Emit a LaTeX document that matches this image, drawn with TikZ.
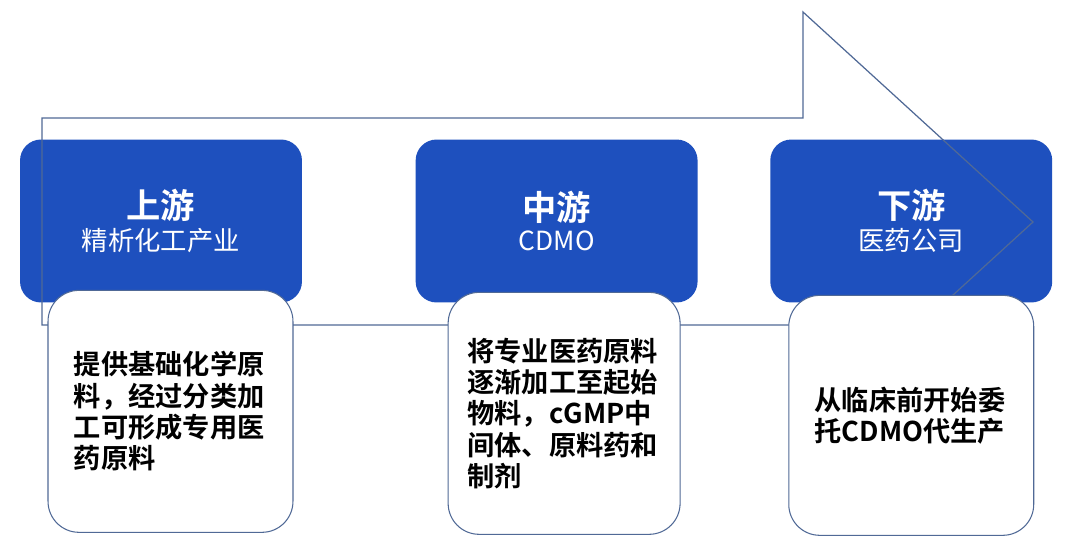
\documentclass[tikz,border=0pt]{standalone}
\usepackage{fontspec}
\newfontfamily\cjk{Noto Sans CJK SC}[BoldFont={Noto Sans CJK SC Bold}]
\usepackage{tikz}
\usetikzlibrary{positioning}
\definecolor{headblue}{RGB}{30,80,190}
\definecolor{edgegray}{RGB}{80,105,150}

\begin{document}
\begin{tikzpicture}[
    x=0.02cm, y=-0.02cm,
    font=\cjk,
    head_box/.style={fill=headblue, draw=none, rounded corners=0.42cm, minimum width=5.64cm, minimum height=3.26cm, text=white, align=center, inner sep=0pt},
    body_box/.style={fill=white, draw=edgegray, line width=0.6pt, rounded corners=0.62cm, minimum height=4.84cm, align=left, text width=110pt, font=\cjk\bfseries\fontsize{15.5}{17.8}\selectfont},
    flow_line/.style={draw=edgegray, line width=0.7pt}
]
\fill[white] (0,0) rectangle (1080,555);
\useasboundingbox (0,0) rectangle (1080,555);

% stage headers
\node (up_head) [head_box] at (161,221)
    {{\bfseries\fontsize{19.5}{22}\selectfont 上游}\\[3pt]{\fontsize{15}{18}\selectfont 精析化工产业}};
\node (mid_head) [head_box, right=2.26cm of up_head]
    {{\bfseries\fontsize{19.5}{22}\selectfont 中游}\\[3pt]{\fontsize{15}{18}\selectfont CDMO}};
\node (dn_head) [head_box, right=1.44cm of mid_head]
    {{\bfseries\fontsize{19.5}{22}\selectfont 下游}\\[3pt]{\fontsize{15}{18}\selectfont 医药公司}};

% big flow arrow
\draw [flow_line] (42,118) -- (803,118) -- (803,12) -- (1033,222) -- (803,432) -- (803,325) -- (42,325) -- cycle;

% stage details
\node (up_body) [body_box, minimum width=4.9cm, below=-0.26cm of up_head, xshift=0.19cm]
    {提供基础化学原\\料，经过分类加\\工可形成专用医\\药原料};
\node (mid_body) [body_box, minimum width=4.64cm, below=-0.22cm of mid_head, xshift=0.15cm]
    {将专业医药原料\\逐渐加工至起始\\物料，cGMP中\\间体、原料药和\\制剂};
\node (dn_body) [body_box, minimum width=4.9cm, minimum height=4.8cm, below=-0.16cm of dn_head]
    {从临床前开始委\\托CDMO代生产};

\end{tikzpicture}
\end{document}
